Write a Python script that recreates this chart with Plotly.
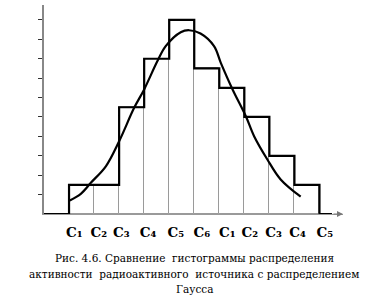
import plotly.graph_objects as go

# ---- data ----
bin_heights = [1.5, 1.5, 5.5, 8.0, 10.0, 7.5, 6.5, 5.0, 3.0, 1.5]
bin_edges = [0, 1, 2, 3, 4, 5, 6, 7, 8, 9, 10]
curve_x = [0.03, 0.47, 0.87, 1.47, 2.0, 2.6, 3.0, 3.53, 3.86, 4.46, 4.79, 5.25, 5.79, 6.06, 6.53, 7.06, 7.39, 7.92, 8.45, 9.25]
curve_y = [0.70, 1.04, 1.61, 2.46, 3.75, 5.47, 6.42, 7.88, 8.65, 9.37, 9.47, 9.30, 8.65, 7.79, 6.42, 5.04, 4.01, 2.81, 1.78, 0.89]
tick_labels = ["C₁", "C₂", "C₃", "C₄", "C₅", "C₆", "C₁", "C₂", "C₃", "C₄", "C₅"]
tick_pos = [0.21, 1.19, 2.09, 3.16, 4.26, 5.30, 6.32, 7.22, 8.17, 9.13, 10.21]
caption = ["Рис. 4.6. Сравнение  гистограммы распределения",
           "активности  радиоактивного  источника с распределением",
           "Гаусса"]

centers = [(bin_edges[i] + bin_edges[i + 1]) / 2 for i in range(len(bin_heights))]

fig = go.Figure()
# thin grey bin dividers
fig.add_trace(go.Bar(x=centers, y=bin_heights, width=1,
                     marker=dict(color="rgba(0,0,0,0)", line=dict(color="#9a9a9a", width=1)),
                     showlegend=False, hoverinfo="skip"))
# thick black histogram outline
step_x = [-1] + bin_edges[:-1] + [bin_edges[-1], 10.5]
step_y = [0] + bin_heights + [0, 0]
fig.add_trace(go.Scatter(x=step_x, y=step_y, mode="lines", line=dict(color="black", width=2.2, shape="hv"),
                         cliponaxis=False, showlegend=False, hoverinfo="skip"))
# gaussian curve
fig.add_trace(go.Scatter(x=curve_x, y=curve_y, mode="lines",
                         line=dict(color="black", width=2.2, shape="spline", smoothing=1.0),
                         showlegend=False, hoverinfo="skip"))

fig.add_annotation(x=10.94, y=0, ax=10.5, ay=0, xref="x", yref="y", axref="x", ayref="y",
                   showarrow=True, arrowhead=2, arrowsize=1.2, arrowwidth=1, arrowcolor="#777", text="")

serif = "DejaVu Serif"
caption_y = [-0.21, -0.285, -0.357]
for t, yy in zip(caption, caption_y):
    fig.add_annotation(x=0.502, y=yy, xref="paper", yref="paper", text=t, showarrow=False,
                       xanchor="center", yanchor="middle", font=dict(family=serif, size=10.5, color="black"))

fig.update_layout(
    width=376, height=308,
    margin=dict(l=44, r=33, t=5, b=94),
    paper_bgcolor="white", plot_bgcolor="white",
    bargap=0,
    font=dict(family=serif),
    xaxis=dict(range=[-1, 10.94], showgrid=False, zeroline=False, showline=True, linecolor="#9a9a9a",
               linewidth=1, tickvals=tick_pos, ticktext=tick_labels,
               ticks="", ticklabelstandoff=6,
               tickfont=dict(family=serif, size=13.5, color="black", weight="bold")),
    yaxis=dict(range=[0, 10.77], showgrid=False, zeroline=False, showline=True, linecolor="#888",
               linewidth=2, ticks="outside", ticklen=4, tickcolor="#333", tickwidth=1,
               tickvals=[1, 2, 3, 4, 5, 6, 7, 8, 9, 10], showticklabels=False),
)
fig.write_html("out.html")
